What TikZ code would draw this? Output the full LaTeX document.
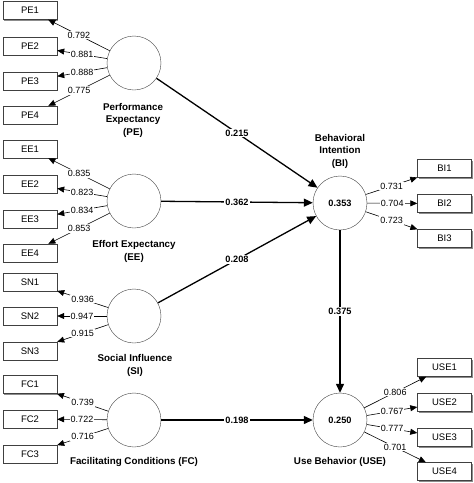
\documentclass[tikz,border=0pt]{standalone}
\usepackage{fontspec}
\setmainfont{Liberation Sans}
\usetikzlibrary{arrows.meta,shadows}

\begin{document}
\begin{tikzpicture}[x=1pt, y=-1pt,
    ind/.style={draw=black!75, fill=white, minimum width=54pt, minimum height=18pt, inner sep=0pt,
        font=\fontsize{9.5}{11}\selectfont,
        drop shadow={shadow xshift=1.3pt, shadow yshift=-1.3pt, fill=black!45, opacity=1}},
    lv/.style={circle, draw=black!75, fill=white, minimum size=54pt, inner sep=0pt,
        font=\bfseries\fontsize{9.2}{11}\selectfont},
    lvname/.style={align=center, font=\bfseries\fontsize{9.8}{12.5}\selectfont},
    loadarrow/.style={-{Triangle[length=7pt,width=6pt]}, line width=0.6pt},
    patharrow/.style={-{Triangle[length=9pt,width=8pt]}, line width=1.3pt},
    lw/.style={fill=white, inner sep=1pt, font=\fontsize{9}{11}\selectfont},
    pw/.style={fill=white, inner sep=1pt, font=\bfseries\fontsize{9.2}{11}\selectfont}]
    \useasboundingbox (0,0) rectangle (474,483);

    % latent variables
    \node[lv] (PE) at (134, 63) {};
    \node[lv] (EE) at (134, 201) {};
    \node[lv] (SI) at (134, 316) {};
    \node[lv] (FC) at (134, 420) {};
    \node[lv] (BI) at (340, 203) {0.353};
    \node[lv] (USE) at (340, 420) {0.250};

    \node[lvname] (PEname) at (133, 120) {Performance\\Expectancy\\(PE)};
    \node[lvname] (EEname) at (134, 251.5) {Effort Expectancy\\(EE)};
    \node[lvname] (SIname) at (135, 365.5) {Social Influence\\(SI)};
    \node[lvname] (FCname) at (134, 462) {Facilitating Conditions (FC)};
    \node[lvname] (BIname) at (340, 151) {Behavioral\\Intention\\(BI)};
    \node[lvname] (USEname) at (340, 462) {Use Behavior (USE)};

    % indicators
    \node[ind] (PE1) at (30, 10.5) {PE1};
    \node[ind] (PE2) at (30, 46) {PE2};
    \node[ind] (PE3) at (30, 81) {PE3};
    \node[ind] (PE4) at (30, 115) {PE4};
    \node[ind] (EE1) at (30, 149) {EE1};
    \node[ind] (EE2) at (30, 184) {EE2};
    \node[ind] (EE3) at (30, 219) {EE3};
    \node[ind] (EE4) at (30, 253) {EE4};
    \node[ind] (SN1) at (30, 282) {SN1};
    \node[ind] (SN2) at (30, 316) {SN2};
    \node[ind] (SN3) at (30, 351) {SN3};
    \node[ind] (FC1) at (30, 384.5) {FC1};
    \node[ind] (FC2) at (30, 419) {FC2};
    \node[ind] (FC3) at (30, 454) {FC3};
    \node[ind] (BI1) at (444.5, 168.5) {BI1};
    \node[ind] (BI2) at (444.5, 203.5) {BI2};
    \node[ind] (BI3) at (444.5, 238.5) {BI3};
    \node[ind] (USE1) at (444.5, 367.5) {USE1};
    \node[ind] (USE2) at (444.5, 402.5) {USE2};
    \node[ind] (USE3) at (444.5, 437.5) {USE3};
    \node[ind] (USE4) at (444.5, 471.5) {USE4};

    % outer loadings
    \draw[loadarrow] (PE) to node[lw] {0.792} (PE1);
    \draw[loadarrow] (PE) to node[lw] {0.881} (PE2);
    \draw[loadarrow] (PE) to node[lw] {0.888} (PE3);
    \draw[loadarrow] (PE) to node[lw] {0.775} (PE4);
    \draw[loadarrow] (EE) to node[lw] {0.835} (EE1);
    \draw[loadarrow] (EE) to node[lw] {0.823} (EE2);
    \draw[loadarrow] (EE) to node[lw] {0.834} (EE3);
    \draw[loadarrow] (EE) to node[lw] {0.853} (EE4);
    \draw[loadarrow] (SI) to node[lw] {0.936} (SN1);
    \draw[loadarrow] (SI) to node[lw] {0.947} (SN2);
    \draw[loadarrow] (SI) to node[lw] {0.915} (SN3);
    \draw[loadarrow] (FC) to node[lw] {0.739} (FC1);
    \draw[loadarrow] (FC) to node[lw] {0.722} (FC2);
    \draw[loadarrow] (FC) to node[lw] {0.716} (FC3);
    \draw[loadarrow] (BI) to node[lw] {0.731} (BI1);
    \draw[loadarrow] (BI) to node[lw] {0.704} (BI2);
    \draw[loadarrow] (BI) to node[lw] {0.723} (BI3);
    \draw[loadarrow] (USE) to node[lw] {0.806} (USE1);
    \draw[loadarrow] (USE) to node[lw] {0.767} (USE2);
    \draw[loadarrow] (USE) to node[lw] {0.777} (USE3);
    \draw[loadarrow] (USE) to node[lw] {0.701} (USE4);

    % path coefficients
    \draw[patharrow] (PE) to node[pw] {0.215} (BI);
    \draw[patharrow] (EE) to node[pw] {0.362} (BI);
    \draw[patharrow] (SI) to node[pw] {0.208} (BI);
    \draw[patharrow] (BI) to node[pw] {0.375} (USE);
    \draw[patharrow] (FC) to node[pw] {0.198} (USE);

\end{tikzpicture}
\end{document}
